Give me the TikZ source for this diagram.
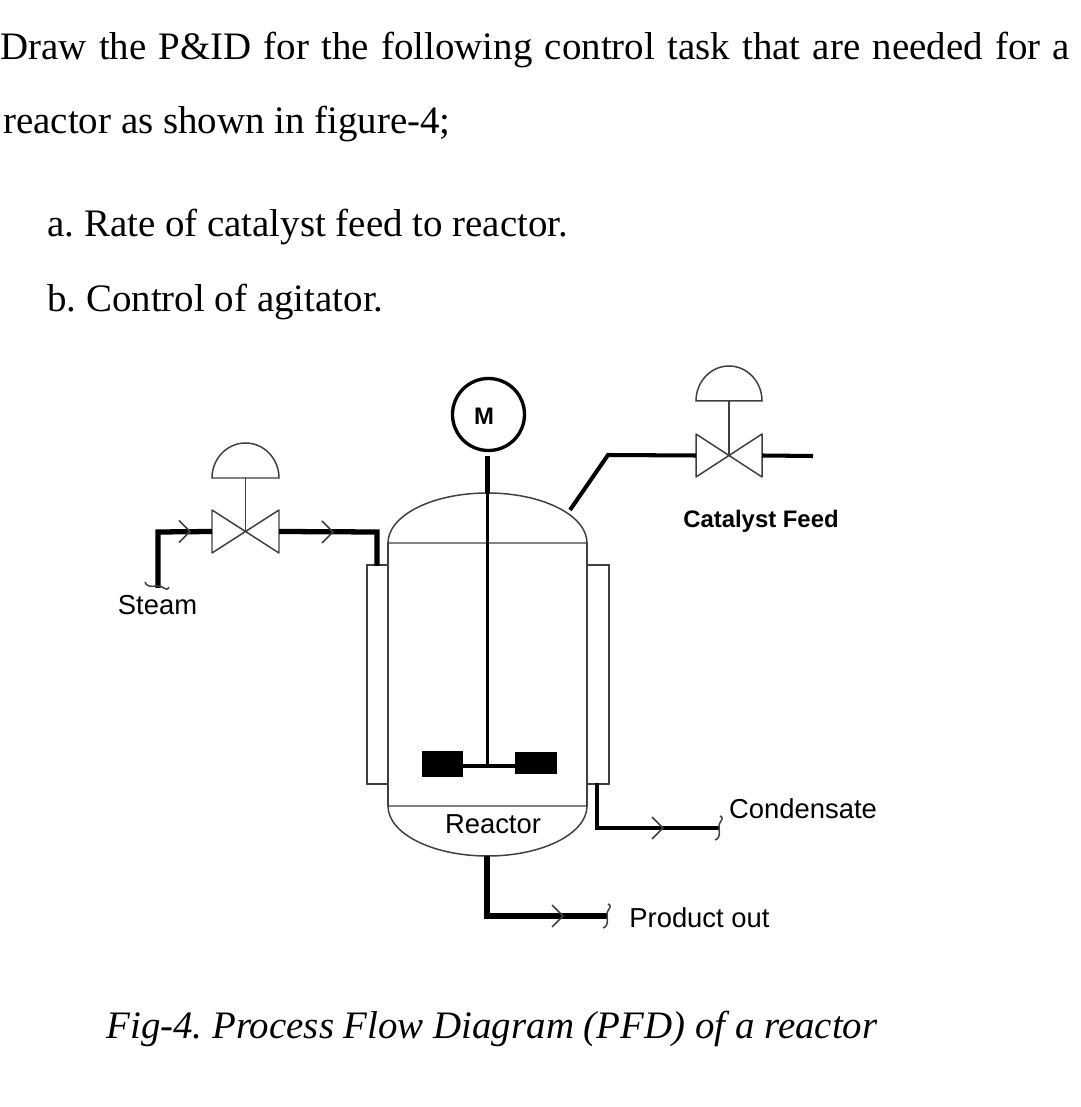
\documentclass[tikz,border=0pt]{standalone}
\usepackage{fontspec}
\usepackage{amsmath}
\usepackage{tkz-euclide}
\setmainfont{Liberation Serif}
\newfontfamily\labelfont{Liberation Sans}
\frenchspacing

\tikzset{
    thinline/.style = {line width=0.85pt, draw=black!75},
    pipe/.style = {line width=3pt, draw=black, line join=miter, line cap=butt},
    midpipe/.style = {line width=2.3pt, draw=black, line join=miter, line cap=butt},
    textline/.style = {anchor=base west, inner sep=0pt, font=\fontsize{22.15}{26}\selectfont},
    tag/.style = {inner sep=0pt, font=\labelfont\fontsize{15.6}{18}\selectfont},
    boldtag/.style = {inner sep=0pt, font=\labelfont\bfseries\fontsize{13.6}{16}\selectfont},
}
% flow mark with its tip on the point, and the broken pipe ends
\newcommand{\flowmark}[1]{\draw[thinline,shift={(#1)}] (-11,11) -- (0,0) -- (-11,-11);}
\newcommand{\pipebreak}[2]{\draw[thinline,shift={(#1)},rotate=#2] (0,12) .. controls (6,9) and (-2,7) .. (-1,0) .. controls (0,-7) and (-1,-11) .. (-5,-12);}

\begin{document}
\begin{tikzpicture}[x=0.02cm,y=0.02cm]
                \useasboundingbox (0,0) rectangle (1080,1107);
                % steam valve
                \tkzDefPoints{212/597/A,212/554/B,279/597/C,279/554/D,245.5/575.5/E}
                \tkzDefPoints{212/629/F,279/629/G,245.5/629/H}
                % catalyst valve
                \tkzDefPoints{696/673/I,696/630/J,762/673/K,762/630/L,729/651.5/M}
                \tkzDefPoints{696/706/N,762/706/O,729/706/P}
                % vessel
                \tkzDefPoints{388/564/Q,587/564/R,388/301/S,587/301/T}
                \tkzDefPoints{367/542/a,388/542/b,367/323/c,388/323/d}
                \tkzDefPoints{587/542/e,609/542/f,587/323/g,609/323/h}
                % pipes
                \tkzDefPoints{158/519/i,158/575/j,377/575/k,377/541/l}
                \tkzDefPoints{570/597/m,608/652/n,813/651/o}
                \tkzDefPoints{597/324/p,597/279/q,720/279/r}
                \tkzDefPoints{487/251/s,487/191/t,608/191/u}
                % agitator
                \tkzDefPoints{487.5/651/v,487.5/614/w,487.5/341/x,463/341/y,515/341/z}

                \tkzDrawPolygon[thinline](A,B,C,D)
                \tkzDrawPolygon[thinline](I,J,K,L)
                \draw[thinline] (F) arc (180:0:33.5 and 35) -- cycle;
                \draw[thinline] (N) arc (180:0:33 and 35) -- cycle;
                \tkzDrawSegments[thinline](H,E P,M)

                \draw[thinline] (Q) arc (180:0:99.5 and 50) -- cycle;
                \draw[thinline] (S) arc (180:360:99.5 and 50) -- cycle;
                \tkzDrawSegments[thinline](Q,S R,T)
                \tkzDrawPolySeg[thinline](b,a,c,d)
                \tkzDrawPolySeg[thinline](e,f,h,g)

                \tkzDrawPolySeg[pipe](i,j,B|-E)
                \tkzDrawPolySeg[pipe](D|-E,k,l)
                \tkzDrawPolySeg[midpipe](m,n,J|-M)
                \tkzDrawSegments[midpipe](L|-M,o)
                \tkzDrawPolySeg[midpipe](p,q,r)
                \tkzDrawPolySeg[pipe](s,t,u)

                \flowmark{190,575.5}
                \flowmark{333,575}
                \flowmark{663,279}
                \flowmark{563,191}
                \pipebreak{157,520}{-90}
                \pipebreak{720,279}{0}
                \pipebreak{608,191}{0}

                \node[circle, draw, line width=1.9pt, inner sep=0pt, minimum size=41pt] (motor) at (488.5,692.5) {};
                \node[boldtag] (motortext) at (484,691) {M};
                \tkzDrawSegments[line width=2.8pt, line cap=butt](v,w)
                \tkzDrawSegments[line width=2.1pt, line cap=butt](w,x)
                \tkzDrawSegments[line width=1.9pt, line cap=butt](y,z)
                \fill (422,330) rectangle (463,356);
                \fill (515,333) rectangle (557,355);

                \node[textline] (lineone) at (0,1047) {\makebox[608.8pt][s]{Draw the P\&ID for the following control task that are needed for a}};
                \node[textline] (linetwo) at (3,973) {reactor as shown in figure-4;};
                \node[textline] (itema) at (47,870) {a. Rate of catalyst feed to reactor.};
                \node[textline] (itemb) at (47,795) {b. Control of agitator.};
                \node[tag] (steam) at (157.5,501.5) {Steam};
                \node[boldtag] (catalyst) at (761,586) {Catalyst Feed};
                \node[tag] (condensate) at (803,298) {Condensate};
                \node[tag] (reactor) at (493,282.5) {Reactor};
                \node[tag, anchor=west] (product) at (629,189) {Product out};
                \node[textline, anchor=base, font=\itshape\fontsize{22.15}{26}\selectfont] (caption) at (492,69) {Fig-4. Process Flow Diagram (PFD) of a reactor};
            \end{tikzpicture}
\end{document}
